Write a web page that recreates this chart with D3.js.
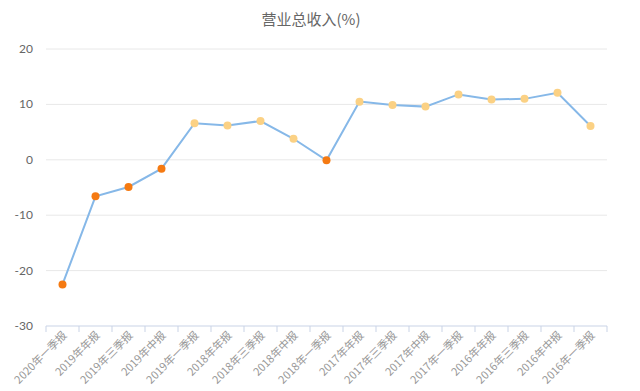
<!DOCTYPE html>
<html><head><meta charset="utf-8">
<script src="https://cdn.jsdelivr.net/npm/d3@7"></script>
<style>body{margin:0;background:#fff;}svg{display:block;}</style>
</head><body>
<script>
const categories = ["2020年一季报","2019年年报","2019年三季报","2019年中报","2019年一季报","2018年年报","2018年三季报","2018年中报","2018年一季报","2017年年报","2017年三季报","2017年中报","2017年一季报","2016年年报","2016年三季报","2016年中报","2016年一季报"];
const values = [-22.5,-6.6,-4.9,-1.6,6.6,6.2,7.0,3.8,-0.1,10.5,9.9,9.6,11.8,10.9,11.0,12.1,6.1];
const yTicks = [20,10,0,-10,-20,-30];
const title = "营业总收入(%)";

const W = 640, H = 391;
const m = {l:46, r:33, t:49, b:65};
const svg = d3.select("body").append("svg").attr("width",W).attr("height",H);
const x = d3.scaleBand().domain(categories).range([m.l, W-m.r]);
const y = d3.scaleLinear().domain([-30,20]).range([H-m.b, m.t]);

svg.append("text").attr("x",311).attr("y",25).attr("text-anchor","middle")
  .attr("font-family","'Noto Sans CJK SC', sans-serif").attr("font-size",15).attr("fill","#666").text(title);

// grid
svg.append("g").selectAll("line").data(yTicks.filter(d=>d!==-30)).join("line")
  .attr("x1",m.l).attr("x2",W-m.r).attr("y1",d=>y(d)).attr("y2",d=>y(d))
  .attr("stroke","#e8e8e8").attr("stroke-width",1);

// y labels
svg.append("g").selectAll("text").data(yTicks).join("text")
  .attr("x",33).attr("y",d=>y(d)+4).attr("text-anchor","end")
  .attr("font-family","Lato, sans-serif").attr("font-size",12).attr("fill","#666").text(d=>d);

// x axis
const xa = svg.append("g").attr("transform",`translate(0,${y(-30)})`);
xa.append("line").attr("x1",m.l).attr("x2",W-m.r).attr("stroke","#c9d3e6");
const tickPos = categories.map(c=>x(c)).concat([W-m.r]);
xa.selectAll("line.t").data(tickPos).join("line").attr("class","t")
  .attr("x1",d=>d).attr("x2",d=>d).attr("y1",0).attr("y2",6).attr("stroke","#c9d3e6");
xa.selectAll("text").data(categories).join("text")
  .attr("transform",d=>`translate(${x(d)+x.bandwidth()/2+5},${10}) rotate(-45)`)
  .attr("text-anchor","end").attr("font-family","'Noto Sans CJK SC', sans-serif")
  .attr("font-size",11).attr("fill","#999").text(d=>d);

// line
const line = d3.line().x((d,i)=>x(categories[i])+x.bandwidth()/2).y(d=>y(d));
svg.append("path").datum(values).attr("d",line).attr("fill","none")
  .attr("stroke","#86b8e8").attr("stroke-width",2);

svg.append("g").selectAll("circle").data(values).join("circle")
  .attr("cx",(d,i)=>x(categories[i])+x.bandwidth()/2).attr("cy",d=>y(d)).attr("r",4)
  .attr("fill",d=>d<0?"#f57a12":"#fbd184");
</script>
</body></html>
